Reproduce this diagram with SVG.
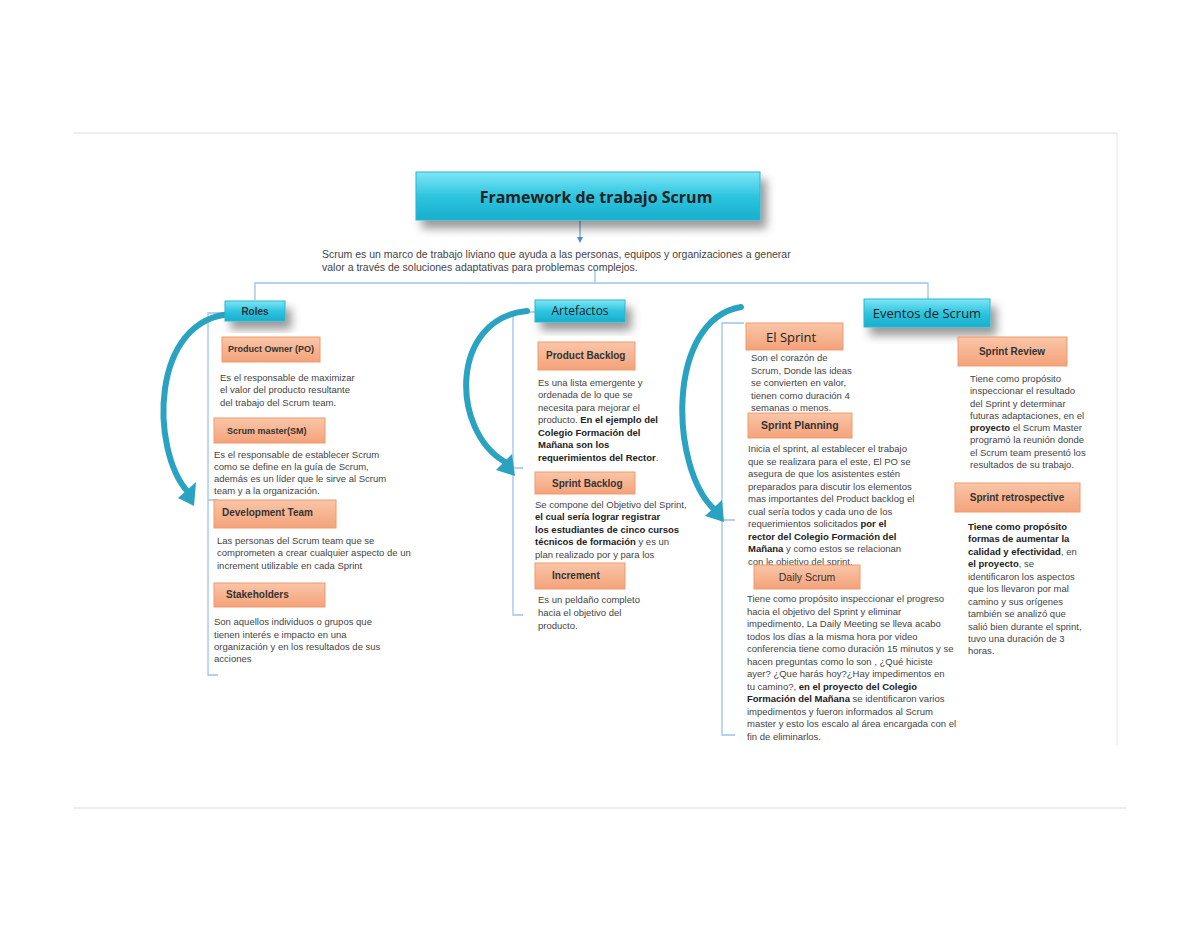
<svg xmlns="http://www.w3.org/2000/svg" width="1200" height="927" viewBox="0 0 1200 927">
<defs>
<linearGradient id="cy" x1="0" y1="0" x2="0" y2="1"><stop offset="0" stop-color="#7fe6f5"/><stop offset="0.5" stop-color="#2ec5e0"/><stop offset="1" stop-color="#18aecb"/></linearGradient>
<linearGradient id="sa" x1="0" y1="0" x2="0" y2="1"><stop offset="0" stop-color="#f9c6a8"/><stop offset="1" stop-color="#f4a27a"/></linearGradient>
<filter id="sh" x="-20%" y="-30%" width="150%" height="190%"><feDropShadow dx="6" dy="8" stdDeviation="5" flood-color="#000" flood-opacity="0.4"/></filter>
<marker id="ar" markerWidth="8" markerHeight="8" refX="4" refY="4" orient="auto"><path d="M0,1 L6,4 L0,7 Z" fill="#4a8fd0"/></marker>
</defs>
<style>
.t{font-family:"Liberation Sans",Arial,sans-serif;font-size:9.5px;fill:#444}
.b{font-weight:bold;fill:#222}
.h{font-family:"Liberation Sans",Arial,sans-serif;font-size:10px;font-weight:bold;fill:#333}
.hc{font-family:"Open Sans","Liberation Sans",sans-serif;font-size:13px;fill:#222}
.sal{fill:url(#sa);stroke:#f19a6d;stroke-width:1}
.cy{fill:url(#cy);stroke:#2bb6cf;stroke-width:1;filter:url(#sh)}
.ln{fill:none;stroke:#9cc4ea;stroke-width:1.3}
.cv{fill:none;stroke:#2aa3c2;stroke-width:6;stroke-linecap:round}
.ah{fill:#2aa3c2}
</style>
<rect width="1200" height="927" fill="#fff"/>
<line x1="73" y1="133" x2="1117" y2="133" stroke="#ddd"/>
<line x1="73" y1="808" x2="1127" y2="808" stroke="#ddd"/>
<line x1="1117" y1="133" x2="1117" y2="745" stroke="#e6e6e6"/>
<g id="connectors">
<line x1="580" y1="221" x2="580" y2="241" stroke="#4a8fd0" stroke-width="1" marker-end="url(#ar)"/>
<path class="ln" d="M595,270 V283 M255,300 V283 H928 V300"/>
<path class="ln" d="M225,313 H208 V675 H218 M208,500 H218"/>
<path class="ln" d="M535,312 H513 V615 H523 M513,468 H523"/>
<path class="ln" d="M744,323 H722 V735 H735 M722,520 H735"/>
<path class="cv" d="M232,314 C150,318 150,450 188,492"/>
<polygon class="ah" points="178,498 196,482 194,506"/>
<path class="cv" d="M527,311 C450,318 450,430 505,462"/>
<polygon class="ah" points="496,470 512,454 515,476"/>
<path class="cv" d="M741,307 C665,320 670,470 715,510"/>
<polygon class="ah" points="705,516 722,500 724,522"/>
</g>
<g id="title"><rect class="cy" x="416" y="172" width="344" height="48"/><text x="596" y="203" text-anchor="middle" class="hc" style="font-size:16px;font-weight:bold">Framework de trabajo Scrum</text></g>
<g id="intro"><text class="t" x="322" y="258" style="font-size:10.5px">Scrum es un marco de trabajo liviano que ayuda a las personas, equipos y organizaciones a generar</text><text class="t" x="322" y="271" style="font-size:10.5px">valor a través de soluciones adaptativas para problemas complejos.</text></g>
<g id="roles"><rect class="cy" x="225" y="301" width="60" height="20"/><text x="255" y="315" text-anchor="middle" class="h">Roles</text></g>
<g id="po"><rect class="sal" x="222" y="337" width="98" height="25"/><text x="228" y="352" class="h" style="font-size:9px">Product Owner (PO)</text>
<text class="t" x="220" y="381">Es el responsable de maximizar</text><text class="t" x="220" y="393">el valor del producto resultante</text><text class="t" x="220" y="406">del trabajo del Scrum team.</text></g>
<g id="sm"><rect class="sal" x="214" y="418" width="111" height="25"/><text x="227" y="434" class="h" style="font-size:9px">Scrum master(SM)</text>
<text class="t" x="214" y="458">Es el responsable de establecer Scrum</text><text class="t" x="214" y="470">como se define en la guía de Scrum,</text><text class="t" x="214" y="482">además es un líder que le sirve al Scrum</text><text class="t" x="214" y="494">team y a la organización.</text></g>
<g id="dev"><rect class="sal" x="214" y="500" width="122" height="28"/><text x="222" y="516" class="h">Development Team</text>
<text class="t" x="217" y="544">Las personas del Scrum team que se</text><text class="t" x="217" y="556">comprometen a crear cualquier aspecto de un</text><text class="t" x="217" y="569">increment utilizable en cada Sprint</text></g>
<g id="stake"><rect class="sal" x="214" y="583" width="111" height="24"/><text x="226" y="598" class="h">Stakeholders</text>
<text class="t" x="214" y="625">Son aquellos individuos o grupos que</text><text class="t" x="214" y="638">tienen interés e impacto en una</text><text class="t" x="214" y="650">organización y en los resultados de sus</text><text class="t" x="214" y="662">acciones</text></g>
<g id="artefactos"><rect class="cy" x="535" y="300" width="90" height="22"/><text x="580" y="315" text-anchor="middle" class="hc" style="font-size:12px">Artefactos</text></g>
<g id="pb"><rect class="sal" x="538" y="342" width="97" height="28"/><text x="546" y="359" class="h">Product Backlog</text>
<text class="t" x="538" y="386">Es una lista emergente y</text><text class="t" x="538" y="398">ordenada de lo que se</text><text class="t" x="538" y="411">necesita para mejorar el</text><text class="t" x="538" y="423">producto. <tspan class="b">En el ejemplo del</tspan></text><text class="t b" x="538" y="436">Colegio Formación del</text><text class="t b" x="538" y="448">Mañana son los</text><text class="t" x="538" y="461"><tspan class="b">requerimientos del Rector</tspan>.</text></g>
<g id="sb"><rect class="sal" x="535" y="472" width="100" height="22"/><text x="552" y="487" class="h">Sprint Backlog</text>
<text class="t" x="535" y="508">Se compone del Objetivo del Sprint,</text><text class="t b" x="535" y="520">el cual sería lograr registrar</text><text class="t b" x="535" y="533">los estudiantes de cinco cursos</text><text class="t" x="535" y="545"><tspan class="b">técnicos de formación</tspan> y es un</text><text class="t" x="535" y="558">plan realizado por y para los</text></g>
<g id="inc"><rect class="sal" x="535" y="563" width="90" height="26"/><text x="552" y="579" class="h">Increment</text>
<text class="t" x="538" y="603">Es un peldaño completo</text><text class="t" x="538" y="616">hacia el objetivo del</text><text class="t" x="538" y="629">producto.</text></g>
<g id="eventos"><rect class="cy" x="864" y="299" width="126" height="28"/><text x="927" y="318" text-anchor="middle" class="hc">Eventos de Scrum</text></g>
<g id="sprint"><rect class="sal" x="746" y="323" width="97" height="27"/><text x="766" y="342" class="hc">El Sprint</text>
<text class="t" x="751" y="361">Son el corazón de</text><text class="t" x="751" y="374">Scrum, Donde las ideas</text><text class="t" x="751" y="386">se convierten en valor,</text><text class="t" x="751" y="399">tienen como duración 4</text><text class="t" x="751" y="411">semanas o menos.</text></g>
<g id="sp"><rect class="sal" x="748" y="413" width="104" height="25"/><text x="761" y="429" class="h" style="font-size:10.5px">Sprint Planning</text>
<text class="t" x="748" y="452">Inicia el sprint, al establecer el trabajo</text><text class="t" x="748" y="465">que se realizara para el este, El PO se</text><text class="t" x="748" y="477">asegura de que los asistentes estén</text><text class="t" x="748" y="490">preparados para discutir los elementos</text><text class="t" x="748" y="502">mas importantes del Product backlog el</text><text class="t" x="748" y="515">cual sería todos y cada uno de los</text><text class="t" x="748" y="527">requerimientos solicitados <tspan class="b">por el</tspan></text><text class="t b" x="748" y="540">rector del Colegio Formación del</text><text class="t" x="748" y="552"><tspan class="b">Mañana</tspan> y como estos se relacionan</text><text class="t" x="748" y="565">con le objetivo del sprint.</text></g>
<g id="ds"><rect class="sal" x="754" y="565" width="106" height="24"/><text x="807" y="581" text-anchor="middle" class="h" style="font-size:10.5px;font-weight:normal">Daily Scrum</text>
<text class="t" x="747" y="602">Tiene como propósito inspeccionar el progreso</text><text class="t" x="747" y="615">hacia el objetivo del Sprint y eliminar</text><text class="t" x="747" y="627">impedimento, La Daily Meeting se lleva acabo</text><text class="t" x="747" y="640">todos los días a la misma hora por video</text><text class="t" x="747" y="652">conferencia tiene como duración 15 minutos y se</text><text class="t" x="747" y="665">hacen preguntas como lo son , ¿Qué hiciste</text><text class="t" x="747" y="677">ayer? ¿Que harás hoy?¿Hay impedimentos en</text><text class="t" x="747" y="690">tu camino?, <tspan class="b">en el proyecto del Colegio</tspan></text><text class="t" x="747" y="702"><tspan class="b">Formación del Mañana</tspan> se identificaron varios</text><text class="t" x="747" y="715">impedimentos y fueron informados al Scrum</text><text class="t" x="747" y="727">master y esto los escalo al área encargada con el</text><text class="t" x="747" y="740">fin de eliminarlos.</text></g>
<g id="sr"><rect class="sal" x="958" y="337" width="109" height="29"/><text x="1012" y="355" text-anchor="middle" class="h">Sprint Review</text>
<text class="t" x="970" y="382">Tiene como propósito</text><text class="t" x="970" y="394">inspeccionar el resultado</text><text class="t" x="970" y="407">del Sprint y determinar</text><text class="t" x="970" y="419">futuras adaptaciones, en el</text><text class="t" x="970" y="431"><tspan class="b">proyecto</tspan> el Scrum Master</text><text class="t" x="970" y="443">programó la reunión donde</text><text class="t" x="970" y="456">el Scrum team presentó los</text><text class="t" x="970" y="468">resultados de su trabajo.</text></g>
<g id="retro"><rect class="sal" x="955" y="483" width="125" height="29"/><text x="1017" y="501" text-anchor="middle" class="h">Sprint retrospective</text>
<text class="t b" x="968" y="530">Tiene como propósito</text><text class="t b" x="968" y="542">formas de aumentar la</text><text class="t" x="968" y="555"><tspan class="b">calidad y efectividad</tspan>, en</text><text class="t b" x="968" y="567">el proyecto<tspan style="font-weight:normal;fill:#444">, se</tspan></text><text class="t" x="968" y="580">identificaron los aspectos</text><text class="t" x="968" y="592">que los llevaron por mal</text><text class="t" x="968" y="605">camino y sus orígenes</text><text class="t" x="968" y="617">también se analizó que</text><text class="t" x="968" y="630">salió bien durante el sprint,</text><text class="t" x="968" y="642">tuvo una duración de  3</text><text class="t" x="968" y="654">horas.</text></g>
</svg>
